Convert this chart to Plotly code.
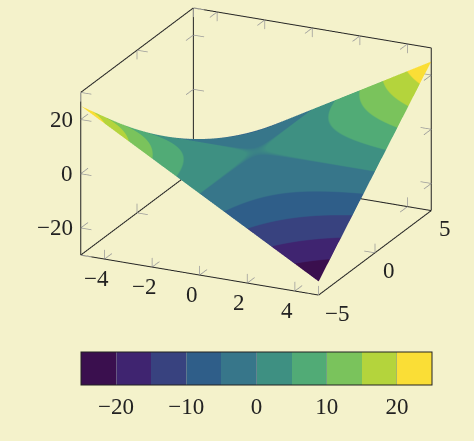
import plotly.graph_objects as go

# surface values
x_vals = [-5, -4, -3, -2, -1, 0, 1, 2, 3, 4, 5]
y_vals = [-5, -4, -3, -2, -1, 0, 1, 2, 3, 4, 5]
z_grid = [
    [25, 20, 15, 10, 5, 0, -5, -10, -15, -20, -25],
    [20, 16, 12, 8, 4, 0, -4, -8, -12, -16, -20],
    [15, 12, 9, 6, 3, 0, -3, -6, -9, -12, -15],
    [10, 8, 6, 4, 2, 0, -2, -4, -6, -8, -10],
    [5, 4, 3, 2, 1, 0, -1, -2, -3, -4, -5],
    [0, 0, 0, 0, 0, 0, 0, 0, 0, 0, 0],
    [-5, -4, -3, -2, -1, 0, 1, 2, 3, 4, 5],
    [-10, -8, -6, -4, -2, 0, 2, 4, 6, 8, 10],
    [-15, -12, -9, -6, -3, 0, 3, 6, 9, 12, 15],
    [-20, -16, -12, -8, -4, 0, 4, 8, 12, 16, 20],
    [-25, -20, -15, -10, -5, 0, 5, 10, 15, 20, 25],
]

x_ticks = [-4, -2, 0, 2, 4]
y_ticks = [-5, 0, 5]
z_ticks = [-20, 0, 20]
cbar_ticks = [-20, -10, 0, 10, 20]
band_colors = ["#3a0f4e", "#3f2470", "#38427f", "#2f5e89", "#37768a",
               "#3e9082", "#51ab76", "#7ac35c", "#b4d43c", "#fade36"]

BG = "#f4f2cb"
FONT = "Liberation Serif"
x0, x1 = -5, 5
y0, y1 = -5, 5
z0, z1 = -30, 30


def label(v):
    return str(v).replace("-", "\u2212")


# stepped colorscale
scale = []
for i, c in enumerate(band_colors):
    scale.append([i / 10, c])
    scale.append([(i + 1) / 10, c])

fig = go.Figure()

fig.add_trace(go.Surface(
    x=x_vals, y=y_vals, z=z_grid,
    colorscale=scale, cmin=-25, cmax=25,
    lighting=dict(ambient=1, diffuse=0, specular=0, roughness=1, fresnel=0),
    hoverinfo="skip",
    colorbar=dict(
        orientation="h", x=81 / 474, xanchor="left", y=1 - 352 / 441, yanchor="top",
        lenmode="pixels", len=351, thicknessmode="pixels", thickness=33,
        xpad=0, ypad=0, outlinecolor="#222222", outlinewidth=1,
        tickvals=cbar_ticks, ticktext=[label(v) for v in cbar_ticks],
        ticks="inside", ticklen=33, tickcolor="rgba(150,150,150,0.45)", tickwidth=1,
        tickfont=dict(family=FONT, size=23, color="#222222"),
    ),
))

# box edges of the three back faces
edges = [
    ((x0, y0, z0), (x1, y0, z0)), ((x1, y0, z0), (x1, y1, z0)),
    ((x0, y0, z0), (x0, y1, z0)), ((x0, y1, z0), (x1, y1, z0)),
    ((x0, y0, z1), (x0, y1, z1)), ((x0, y1, z1), (x1, y1, z1)),
    ((x0, y0, z0), (x0, y0, z1)), ((x0, y1, z0), (x0, y1, z1)),
    ((x1, y1, z0), (x1, y1, z1)),
]
ex, ey, ez = [], [], []
for a, b in edges:
    ex += [a[0], b[0], None]
    ey += [a[1], b[1], None]
    ez += [a[2], b[2], None]
fig.add_trace(go.Scatter3d(x=ex, y=ey, z=ez, mode="lines", hoverinfo="skip", showlegend=False,
                           line=dict(color="#222222", width=2)))

# inward ticks, two per position
dx, dy, dz = 0.45, 0.65, 3.4
tx, ty, tz = [], [], []


def tick(p, d1, d2):
    for d in (d1, d2):
        tx.extend([p[0], p[0] + d[0], None])
        ty.extend([p[1], p[1] + d[1], None])
        tz.extend([p[2], p[2] + d[2], None])


for v in x_ticks:
    tick((v, y0, z0), (0, dy, 0), (0, 0, dz))
    tick((v, y1, z0), (0, -dy, 0), (0, 0, dz))
    tick((v, y1, z1), (0, -dy, 0), (0, 0, -dz))
for v in y_ticks:
    tick((x0, v, z0), (dx, 0, 0), (0, 0, dz))
    tick((x0, v, z1), (dx, 0, 0), (0, 0, -dz))
    tick((x1, v, z0), (-dx, 0, 0), (0, 0, dz))
for v in z_ticks:
    tick((x0, y0, v), (dx, 0, 0), (0, dy, 0))
    tick((x0, y1, v), (dx, 0, 0), (0, -dy, 0))
    tick((x1, y1, v), (-dx, 0, 0), (0, -dy, 0))
fig.add_trace(go.Scatter3d(x=tx, y=ty, z=tz, mode="lines", hoverinfo="skip", showlegend=False,
                           line=dict(color="#999999", width=1.5)))

# tick labels
notes = []
lab_font = dict(family=FONT, size=23, color="#222222")
for v in x_ticks:
    notes.append(dict(x=v, y=y0, z=z0, text=label(v), showarrow=False, font=lab_font, xshift=-8, yshift=-19))
for v in y_ticks:
    notes.append(dict(x=x1, y=v, z=z0, text=label(v), showarrow=False, font=lab_font,
                      xshift=18 if v < 0 else 14, yshift=-18))
for v in z_ticks:
    notes.append(dict(x=x0, y=y0, z=v, text=label(v), showarrow=False, font=lab_font,
                      xanchor="right", xshift=-6))

hidden = dict(visible=False)
fig.update_layout(
    width=474, height=441,
    # keep the colorbar from pushing the margins, the scene size depends on it
    margin=dict(l=0, r=0, t=0, b=0, autoexpand=False),
    paper_bgcolor=BG,
    showlegend=False,
    scene=dict(
        domain=dict(x=[0.08, 1], y=[1 - 303 / 441, 1]),
        xaxis=dict(range=[x0, x1], **hidden),
        yaxis=dict(range=[y0, y1], **hidden),
        zaxis=dict(range=[z0, z1], **hidden),
        aspectmode="manual",
        aspectratio=dict(x=1.7375, y=1.7375, z=1.1485),
        camera=dict(
            projection=dict(type="orthographic"),
            up=dict(x=0, y=0, z=1),
            center=dict(x=0, y=0, z=0),
            eye=dict(x=0.8, y=-1.69, z=0.71),
        ),
        annotations=notes,
    ),
)

# page margin off so the figure fills the window
fig.write_html("out.html", config=dict(displayModeBar=False),
               post_script="document.body.style.margin='0';document.body.style.overflow='hidden';")
